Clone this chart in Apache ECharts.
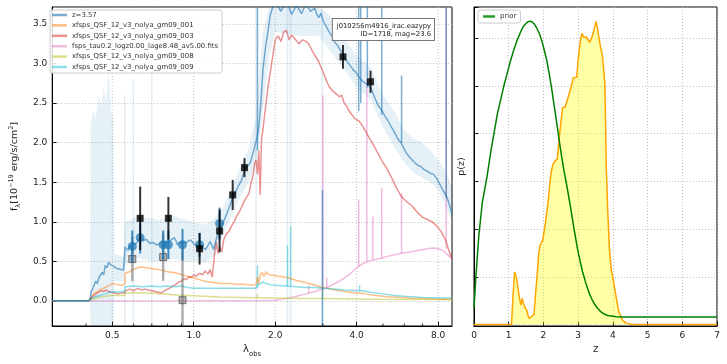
<!DOCTYPE html>
<html><head><meta charset="utf-8">
<script src="https://cdn.jsdelivr.net/npm/echarts@6/dist/echarts.min.js"></script>
<style>html,body{margin:0;padding:0;background:#fff}#c{width:727px;height:364px}</style>
</head><body><div id="c"></div>
<script>
// ---------------- data (left panel: SED, wavelength in micron, flux in 1e-19 erg/s/cm2/A) ----------------
const seriesNames = ['z=3.57','xfsps_QSF_12_v3_nolya_gm09_001','xfsps_QSF_12_v3_nolya_gm09_003','fsps_tau0.2_logz0.00_lage8.48_av5.00.fits','xfsps_QSF_12_v3_nolya_gm09_008','xfsps_QSF_12_v3_nolya_gm09_009'];
const modelZ = [[0.30,0.003],[0.36,0.003],[0.405,0.004],[0.414,0.01],[0.418,0.12],[0.425,0.17],[0.434,0.25],[0.440,0.22],[0.447,0.30],[0.453,0.28],[0.459,0.36],[0.465,0.33],[0.471,0.45],[0.478,0.42],[0.485,0.49],[0.492,0.46],[0.499,0.48],[0.506,0.44],[0.513,0.45],[0.520,0.41],[0.527,0.43],[0.535,0.40],[0.543,0.41],[0.550,0.39],[0.555,0.40],[0.558,0.68],[0.565,0.66],[0.572,0.64],[0.580,0.70],[0.590,0.68],[0.598,0.72],[0.606,0.74],[0.615,0.73],[0.623,0.77],[0.632,0.79],[0.641,0.80],[0.650,0.76],[0.659,0.75],[0.668,0.78],[0.677,0.76],[0.687,0.73],[0.697,0.71],[0.707,0.74],[0.717,0.73],[0.727,0.71],[0.737,0.69],[0.748,0.72],[0.758,0.73],[0.769,0.75],[0.780,0.77],[0.796,0.74],[0.813,0.75],[0.830,0.78],[0.847,0.80],[0.860,0.76],[0.870,0.71],[0.885,0.74],[0.900,0.76],[0.917,0.75],[0.935,0.73],[0.955,0.76],[0.974,0.77],[0.992,0.74],[1.011,0.71],[1.035,0.70],[1.063,0.69],[1.085,0.67],[1.106,0.65],[1.128,0.70],[1.150,0.75],[1.168,0.70],[1.185,0.65],[1.203,0.74],[1.220,0.82],[1.235,0.86],[1.250,0.90],[1.270,0.95],[1.290,1.01],[1.310,1.06],[1.340,1.15],[1.365,1.22],[1.390,1.30],[1.420,1.36],[1.460,1.45],[1.500,1.52],[1.540,1.65],[1.580,1.70],[1.620,1.75],[1.650,1.85],[1.680,1.95],[1.710,2.05],[1.740,2.20],[1.770,2.50],[1.800,2.90],[1.840,3.20],[1.880,3.40],[1.920,3.62],[1.960,3.72],[2.000,3.78],[2.100,3.66],[2.200,3.80],[2.300,3.62],[2.400,3.74],[2.500,3.63],[2.600,3.76],[2.700,3.66],[2.800,3.70],[2.850,3.62],[2.900,3.58],[2.950,3.64],[3.000,3.55],[3.050,3.50],[3.100,3.46],[3.150,3.41],[3.240,3.35],[3.320,3.27],[3.400,3.23],[3.480,3.17],[3.560,3.12],[3.650,3.05],[3.750,2.99],[3.870,2.93],[3.990,2.88],[4.100,2.82],[4.200,2.78],[4.350,2.74],[4.500,2.70],[4.650,2.58],[4.800,2.47],[4.950,2.41],[5.100,2.33],[5.200,2.29],[5.350,2.21],[5.500,2.14],[5.650,2.06],[5.830,2.00],[6.000,1.92],[6.100,1.87],[6.300,1.81],[6.500,1.76],[6.700,1.72],[6.900,1.70],[7.100,1.66],[7.300,1.64],[7.500,1.61],[7.700,1.60],[7.900,1.55],[8.100,1.48],[8.300,1.41],[8.600,1.32],[8.800,1.22],[9.000,1.10]];
const modelSpikes = [[1.72,1.9,3.8],[2.99,-0.4,1.4],[4.07,2.4,3.8],[4.14,2.5,3.8],[4.38,2.7,3.8],[4.95,2.35,3.8],[5.86,2.0,2.85],[8.57,1.3,3.8]];
const modelBand = [[0.414,0,0.02],[0.416,-0.4,2.2],[0.425,-0.4,2.4],[0.435,-0.4,2.3],[0.445,-0.4,2.6],[0.455,-0.4,2.45],[0.465,-0.4,2.7],[0.475,-0.4,2.5],[0.485,-0.4,2.95],[0.495,-0.4,2.4],[0.505,-0.4,2.3],[0.51,0.25,0.6],[0.55,0.25,0.55],[0.556,0.45,1.0],[0.58,0.5,1.02],[0.62,0.55,1.08],[0.66,0.52,1.05],[0.70,0.5,1.05],[0.75,0.5,1.02],[0.80,0.52,1.06],[0.85,0.53,1.08],[0.90,0.52,1.04],[0.95,0.5,1.02],[1.00,0.5,1.0],[1.05,0.5,0.98],[1.10,0.48,0.96],[1.15,0.52,1.0],[1.20,0.58,1.05],[1.25,0.72,1.12],[1.30,0.88,1.22],[1.40,1.12,1.48],[1.50,1.35,1.72],[1.60,1.5,1.95],[1.70,1.75,2.35],[1.80,2.4,3.4],[1.90,3.1,3.9],[2.0,3.4,4.1],[2.5,3.35,4.1],[2.9,3.35,3.9],[3.2,3.15,3.6],[3.56,2.95,3.35],[4.0,2.7,3.1],[4.5,2.55,2.95],[5.0,2.2,2.6],[5.5,1.95,2.4],[6.0,1.75,2.15],[6.5,1.62,2.05],[7.0,1.55,2.0],[7.5,1.5,1.9],[8.0,1.4,1.78],[8.5,1.22,1.65],[9.0,1.0,1.45]];
const bandSpikes = [[0.556,-0.4,2.6],[0.598,-0.4,2.8],[0.70,-0.4,2.9],[1.70,-0.4,3.8],[2.22,-0.4,3.8],[2.28,-0.4,3.8],[2.98,-0.4,3.8]];
const tpl001 = [[0.30,0.002],[0.41,0.004],[0.417,0.05],[0.43,0.10],[0.45,0.14],[0.47,0.17],[0.49,0.20],[0.50,0.22],[0.52,0.21],[0.54,0.20],[0.556,0.21],[0.558,0.35],[0.58,0.37],[0.60,0.40],[0.62,0.42],[0.64,0.43],[0.67,0.42],[0.70,0.41],[0.73,0.40],[0.76,0.39],[0.80,0.37],[0.84,0.36],[0.87,0.35],[0.91,0.33],[0.95,0.31],[1.0,0.29],[1.05,0.27],[1.10,0.25],[1.15,0.24],[1.20,0.23],[1.25,0.22],[1.35,0.22],[1.45,0.21],[1.55,0.21],[1.65,0.20],[1.70,0.21],[1.72,0.30],[1.74,0.22],[1.76,0.33],[1.79,0.36],[1.82,0.31],[1.85,0.37],[1.88,0.34],[1.92,0.33],[1.96,0.33],[2.0,0.32],[2.1,0.31],[2.25,0.29],[2.4,0.26],[2.6,0.23],[2.81,0.20],[3.0,0.17],[3.33,0.14],[3.6,0.12],[3.9,0.105],[4.3,0.09],[4.7,0.07],[5.2,0.055],[5.8,0.045],[6.5,0.035],[7.2,0.03],[7.7,0.025],[8.5,0.022],[9.0,0.02]];
const tpl003 = [[0.30,0.002],[0.41,0.003],[0.417,0.03],[0.425,0.06],[0.435,0.09],[0.445,0.11],[0.455,0.13],[0.465,0.12],[0.475,0.14],[0.485,0.12],[0.495,0.11],[0.51,0.10],[0.525,0.09],[0.54,0.10],[0.556,0.10],[0.56,0.13],[0.58,0.15],[0.60,0.13],[0.62,0.16],[0.64,0.14],[0.66,0.15],[0.68,0.14],[0.70,0.13],[0.72,0.12],[0.74,0.11],[0.76,0.10],[0.78,0.13],[0.80,0.15],[0.82,0.17],[0.84,0.19],[0.86,0.21],[0.88,0.24],[0.90,0.25],[0.92,0.28],[0.94,0.27],[0.96,0.31],[0.98,0.30],[1.00,0.33],[1.02,0.31],[1.05,0.35],[1.08,0.33],[1.10,0.38],[1.13,0.34],[1.15,0.40],[1.17,0.30],[1.19,0.55],[1.21,0.75],[1.23,0.60],[1.25,0.68],[1.27,0.62],[1.29,0.77],[1.32,0.85],[1.35,0.88],[1.38,0.95],[1.41,1.0],[1.44,1.07],[1.47,1.12],[1.50,1.18],[1.53,1.25],[1.56,1.30],[1.60,1.36],[1.63,1.50],[1.66,1.60],[1.68,1.74],[1.70,1.78],[1.72,1.60],[1.74,1.90],[1.76,1.34],[1.78,2.05],[1.80,2.15],[1.82,2.30],[1.85,2.50],[1.88,2.70],[1.91,2.85],[1.94,3.00],[1.97,3.15],[2.00,3.30],[2.05,3.35],[2.10,3.28],[2.15,3.40],[2.20,3.42],[2.25,3.30],[2.30,3.36],[2.38,3.30],[2.45,3.25],[2.52,3.30],[2.60,3.28],[2.66,3.25],[2.75,3.15],[2.83,3.08],[2.90,3.02],[3.0,2.90],[3.08,2.80],[3.15,2.72],[3.25,2.66],[3.35,2.62],[3.45,2.58],[3.52,2.60],[3.60,2.50],[3.68,2.46],[3.75,2.40],[3.85,2.35],[3.95,2.30],[4.06,2.28],[4.15,2.24],[4.29,2.16],[4.45,2.06],[4.65,1.95],[4.85,1.83],[5.0,1.75],[5.2,1.66],[5.4,1.55],[5.63,1.42],[5.85,1.32],[6.1,1.26],[6.4,1.20],[6.7,1.12],[7.0,1.06],[7.3,1.03],[7.6,1.00],[7.9,0.95],[8.2,0.88],[8.5,0.78],[8.8,0.62],[9.0,0.52]];
const tplTau = [[0.30,0.001],[1.0,0.002],[1.8,0.005],[2.0,0.01],[2.2,0.03],[2.4,0.06],[2.6,0.09],[2.8,0.12],[3.0,0.15],[3.2,0.19],[3.4,0.24],[3.6,0.29],[3.8,0.35],[4.0,0.42],[4.2,0.47],[4.5,0.51],[4.9,0.54],[5.3,0.57],[5.8,0.60],[6.3,0.62],[6.8,0.64],[7.3,0.66],[7.7,0.67],[8.0,0.66],[8.4,0.63],[8.7,0.58],[9.0,0.53]];
const tauSpikes = [[2.66,0.09,0.2],[3.0,0.15,2.6],[3.1,0.17,0.3],[4.07,0.43,1.28],[4.36,0.5,2.8],[4.59,0.52,1.07],[4.95,0.54,1.43],[5.86,0.6,1.36],[8.57,0.66,3.8]];
const tpl008 = [[0.30,0.002],[0.41,0.003],[0.417,0.02],[0.44,0.04],[0.47,0.06],[0.50,0.07],[0.53,0.07],[0.556,0.07],[0.558,0.10],[0.60,0.105],[0.66,0.10],[0.75,0.09],[0.87,0.075],[1.0,0.065],[1.25,0.05],[1.5,0.045],[1.8,0.04],[2.2,0.035],[2.6,0.03],[3.0,0.03],[4.0,0.025],[5.0,0.022],[7.0,0.02],[9.0,0.02]];
const spikes008 = [[1.72,0.04,0.09],[3.0,0.03,0.18]];
const tpl009 = [[0.30,0.002],[0.41,0.003],[0.417,0.03],[0.43,0.05],[0.45,0.07],[0.47,0.09],[0.49,0.11],[0.50,0.12],[0.52,0.11],[0.54,0.12],[0.556,0.12],[0.558,0.18],[0.60,0.19],[0.65,0.18],[0.70,0.19],[0.75,0.18],[0.80,0.19],[0.85,0.18],[0.90,0.19],[0.95,0.17],[1.0,0.16],[1.1,0.16],[1.2,0.16],[1.3,0.16],[1.4,0.16],[1.5,0.16],[1.6,0.16],[1.69,0.16],[1.72,0.20],[1.76,0.22],[1.80,0.24],[1.85,0.22],[1.90,0.21],[2.0,0.20],[2.2,0.19],[2.4,0.18],[2.6,0.17],[2.8,0.17],[3.0,0.16],[3.3,0.15],[3.6,0.14],[4.0,0.13],[4.2,0.13],[4.5,0.11],[5.0,0.09],[5.5,0.07],[6.0,0.06],[7.0,0.045],[8.0,0.04],[9.0,0.035]];
const spikes009 = [[1.72,0.16,0.45],[2.22,0.19,0.7],[2.28,0.19,0.94],[4.1,0.13,0.2]];
// photometry: [lambda, flux, error]
const obsPhot = [[0.634,1.045,0.40],[0.806,1.045,0.27],[1.051,0.66,0.20],[1.246,0.885,0.27],[1.393,1.34,0.19],[1.540,1.685,0.12],[3.56,3.085,0.15],[4.50,2.77,0.14]];
const modelPhot = [[0.593,0.69,0.20],[0.634,0.80,0.20],[0.771,0.71,0.18],[0.806,0.71,0.18],[0.909,0.71,0.20],[1.051,0.71,0.15],[1.246,0.98,0.20]];
const lowPhot = [[0.593,0.53,0.28],[0.771,0.555,0.30],[0.909,0.01,0.70]];
const xTickMajor = [0.5,1,2,4,8];
const xTickMinor = [0.4,0.6,0.7,0.8,0.9,3,5,6,7];
// ---------------- data (right panel: p(z)) ----------------
const pzCurve = [[0,0],[1.08,0],[1.12,0.55],[1.17,1.10],[1.23,0.96],[1.27,0.75],[1.31,0.55],[1.35,0.41],[1.39,0.55],[1.42,0.45],[1.46,0.37],[1.52,0.30],[1.58,0.13],[1.62,0.12],[1.67,0.17],[1.73,0.22],[1.77,0.62],[1.82,1.04],[1.86,1.45],[1.90,1.66],[1.98,1.77],[2.06,2.15],[2.11,2.42],[2.19,2.98],[2.23,3.22],[2.28,3.36],[2.33,3.42],[2.40,3.47],[2.47,4.02],[2.55,4.54],[2.63,4.56],[2.72,4.78],[2.79,4.96],[2.86,5.17],[2.96,5.18],[3.0,5.55],[3.07,5.96],[3.11,6.10],[3.16,6.02],[3.24,6.02],[3.28,6.0],[3.33,5.91],[3.41,6.04],[3.47,6.21],[3.52,6.35],[3.57,6.14],[3.64,5.83],[3.70,5.62],[3.77,5.06],[3.81,3.33],[3.85,2.42],[3.90,1.59],[3.95,1.17],[4.02,0.90],[4.10,0.55],[4.17,0.27],[4.27,0.10],[4.38,0.03],[4.57,0],[7.0,0]];
const priorCurve = [[0,0.34],[0.05,0.96],[0.14,1.87],[0.24,2.56],[0.38,3.12],[0.48,3.6],[0.58,4.02],[0.67,4.40],[0.77,4.71],[0.86,5.0],[0.96,5.27],[1.05,5.52],[1.15,5.76],[1.25,5.97],[1.35,6.14],[1.42,6.24],[1.49,6.30],[1.55,6.34],[1.61,6.35],[1.67,6.34],[1.73,6.30],[1.80,6.22],[1.88,6.10],[1.95,5.95],[2.02,5.76],[2.10,5.52],[2.17,5.24],[2.24,4.93],[2.31,4.58],[2.38,4.24],[2.45,3.88],[2.52,3.54],[2.60,3.19],[2.69,2.84],[2.79,2.42],[2.88,2.01],[2.98,1.59],[3.05,1.35],[3.13,1.10],[3.20,0.92],[3.27,0.76],[3.34,0.62],[3.41,0.51],[3.48,0.42],[3.56,0.34],[3.65,0.27],[3.75,0.22],[3.85,0.19],[3.95,0.18],[4.1,0.165],[4.24,0.16],[5.0,0.16],[6.0,0.16],[7.0,0.16]];

// ---------------- chart ----------------
const FONT = 'DejaVu Sans';
const C = {
  blue: 'rgba(31,119,180,0.6)', orange: 'rgba(255,127,14,0.5)', red: 'rgba(214,39,40,0.5)',
  pink: 'rgba(227,119,194,0.5)', olive: 'rgba(188,189,34,0.5)', cyan: 'rgba(23,190,207,0.5)'
};
function clampY(cs, v){ return Math.max(cs.y, Math.min(cs.y + cs.height, v)); }
function segRender(color, width){
  return function(params, api){
    const cs = params.coordSys;
    const x = api.value(0), lo = api.value(1), hi = api.value(2);
    const a = api.coord([x, lo]), b = api.coord([x, hi]);
    return {type:'line', shape:{x1:a[0], y1:clampY(cs,a[1]), x2:b[0], y2:clampY(cs,b[1])}, style:{stroke:color, lineWidth:width}};
  };
}
function errRender(color, width){
  return function(params, api){
    const cs = params.coordSys;
    const x = api.value(0), y = api.value(1), e = api.value(2);
    const a = api.coord([x, y - e]), b = api.coord([x, y + e]);
    return {type:'line', shape:{x1:a[0], y1:clampY(cs,a[1]), x2:b[0], y2:clampY(cs,b[1])}, style:{stroke:color, lineWidth:width}};
  };
}
function bandRender(params, api){
  if (params.dataIndex !== 0) return {type:'group', children:[]};
  const cs = params.coordSys;
  const pts = [];
  for (let i = 0; i < modelBand.length; i++) { const p = api.coord([modelBand[i][0], modelBand[i][2]]); pts.push([p[0], clampY(cs,p[1])]); }
  for (let i = modelBand.length - 1; i >= 0; i--) { const p = api.coord([modelBand[i][0], modelBand[i][1]]); pts.push([p[0], clampY(cs,p[1])]); }
  return {type:'polygon', shape:{points:pts}, style:{fill:'rgba(31,119,180,0.11)'}};
}
function minorTickRender(params, api){
  const cs = params.coordSys;
  const p = api.coord([api.value(0), 0]);
  const yb = cs.y + cs.height;
  return {type:'line', shape:{x1:p[0], y1:yb, x2:p[0], y2:yb - 2.5}, style:{stroke:'#000', lineWidth:0.8}};
}
function vGridRender(params, api){
  const cs = params.coordSys;
  const p = api.coord([api.value(0), 0]);
  return {type:'line', shape:{x1:p[0], y1:cs.y, x2:p[0], y2:cs.y + cs.height}, style:{stroke:'#b0b0b0', lineWidth:0.8, lineDash:[1,2]}};
}
const lineSeries = (name, data, color, z) => ({name, type:'line', data, xAxisIndex:0, yAxisIndex:0, showSymbol:false, symbol:'none', color, lineStyle:{color, width:1.5}, z, clip:true});
const custom = (data, renderItem, z, xi) => ({type:'custom', data, renderItem, xAxisIndex:xi||0, yAxisIndex:xi||0, z, silent:true});

const axisCommon = {
  axisLine:{show:true, onZero:false, lineStyle:{color:'#000', width:1}},
  axisTick:{show:true, inside:true, length:4.5, lineStyle:{color:'#000', width:0.9}},
  splitLine:{show:true, lineStyle:{type:[1,2], color:'#b0b0b0', width:0.8}}
};
const labelStyle = {fontSize:9, color:'#222', fontFamily:FONT};

const option = {
  animation:false,
  textStyle:{fontFamily:FONT},
  grid:[
    {left:47, top:7, width:405, height:319, show:true, borderColor:'#000', borderWidth:1, backgroundColor:'transparent'},
    {left:474, top:7, width:243, height:319, show:true, borderColor:'#000', borderWidth:1, backgroundColor:'transparent'}
  ],
  legend:[
    {data:seriesNames, orient:'vertical', left:50, top:10, icon:'rect', itemWidth:15, itemHeight:2.5, itemGap:2.4,
     padding:[1,4,2,2], backgroundColor:'rgba(255,255,255,0.85)', borderColor:'#ccc', borderWidth:1, borderRadius:2,
     textStyle:{fontSize:6.9, color:'#333', lineHeight:8, fontFamily:FONT}, selectedMode:false},
    {data:['prior'], orient:'vertical', left:478, top:10, icon:'rect', itemWidth:12, itemHeight:2.5,
     padding:[3,4,3,5], backgroundColor:'#fff', borderColor:'#ccc', borderWidth:1, borderRadius:2,
     textStyle:{fontSize:7, color:'#333', fontFamily:FONT}, selectedMode:false}
  ],
  xAxis:[
    Object.assign({}, axisCommon, {type:'log', logBase:2, gridIndex:0, min:0.3, max:9.0,
      name:'{a|λ}{b|obs}', nameLocation:'middle', nameGap:16,
      nameTextStyle:{rich:{a:{fontSize:10, color:'#222', fontFamily:FONT, lineHeight:13, verticalAlign:'top'}, b:{fontSize:7, color:'#222', fontFamily:FONT, lineHeight:13, verticalAlign:'bottom'}}},
      axisTick:{show:true, inside:true, length:4.5, lineStyle:{color:'#000', width:0.9}, customValues:xTickMajor},
      splitLine:{show:false},
      axisLabel:Object.assign({}, labelStyle, {margin:5, customValues:xTickMajor, formatter:v => Number(v).toFixed(1)})}),
    Object.assign({}, axisCommon, {type:'value', gridIndex:1, min:0, max:7, interval:1,
      name:'z', nameLocation:'middle', nameGap:15, nameTextStyle:{fontSize:10, color:'#222', fontFamily:FONT},
      axisLabel:Object.assign({}, labelStyle, {margin:5})})
  ],
  yAxis:[
    Object.assign({}, axisCommon, {type:'value', gridIndex:0, min:-0.316, max:3.715, splitNumber:8,
      name:'{a|f}{s|λ}{a|[10}{p|−19}{a| erg/s/cm}{p|2}{a|]}', nameLocation:'middle', nameGap:25, nameRotate:90,
      nameTextStyle:{rich:{
        a:{fontSize:9.5, color:'#222', fontFamily:FONT, lineHeight:14, verticalAlign:'middle'},
        s:{fontSize:6.5, color:'#222', fontFamily:FONT, lineHeight:9, verticalAlign:'bottom'},
        p:{fontSize:6.5, color:'#222', fontFamily:FONT, lineHeight:9, verticalAlign:'top'}}},
      axisLabel:Object.assign({}, labelStyle, {margin:5, showMinLabel:false, showMaxLabel:false, formatter:v => Number(v).toFixed(1)})}),
    Object.assign({}, axisCommon, {type:'value', gridIndex:1, min:-0.03, max:6.65, splitNumber:7,
      name:'p(z)', nameLocation:'middle', nameGap:7, nameRotate:90, nameTextStyle:{fontSize:9.5, color:'#222', fontFamily:FONT},
      axisLabel:{show:false}})
  ],
  graphic:[{type:'text', right:292, top:18, z:100,
    style:{text:'j010256m4916_irac.eazypy\nID=1718, mag=23.6', align:'right', textAlign:'right', font:'6.8px "DejaVu Sans"', fill:'#222',
      backgroundColor:'#fff', borderColor:'#777', borderWidth:1, padding:[3,3,2,4], lineHeight:8}}],
  series:[
    custom(xTickMajor.map(v => [v, 0]), vGridRender, 0),
    custom(modelBand, bandRender, 1),
    custom(bandSpikes, segRender('rgba(31,119,180,0.13)', 1.6), 1),
    lineSeries(seriesNames[1], tpl001, C.orange, 2),
    lineSeries(seriesNames[2], tpl003, C.red, 2),
    lineSeries(seriesNames[3], tplTau, C.pink, 2),
    custom(tauSpikes, segRender(C.pink, 1.5), 2),
    lineSeries(seriesNames[4], tpl008, C.olive, 2),
    custom(spikes008, segRender(C.olive, 1.5), 2),
    lineSeries(seriesNames[5], tpl009, C.cyan, 2),
    custom(spikes009, segRender(C.cyan, 1.5), 2),
    lineSeries(seriesNames[0], modelZ, C.blue, 3),
    custom(modelSpikes, segRender(C.blue, 1.5), 3),
    custom(lowPhot, errRender('rgba(110,110,110,0.55)', 2.5), 4),
    {type:'scatter', data:lowPhot, xAxisIndex:0, yAxisIndex:0, symbol:'rect', symbolSize:7, z:4, silent:true,
      itemStyle:{color:'rgba(110,110,110,0.6)', borderColor:'rgba(60,60,60,0.8)', borderWidth:1}},
    custom(modelPhot, errRender('rgba(31,119,180,0.85)', 2), 5),
    {type:'scatter', data:modelPhot, xAxisIndex:0, yAxisIndex:0, symbol:'circle', symbolSize:9, z:5, silent:true,
      itemStyle:{color:'rgba(31,119,180,0.9)'}},
    custom(obsPhot, errRender('rgba(0,0,0,0.8)', 2), 6),
    {type:'scatter', data:obsPhot, xAxisIndex:0, yAxisIndex:0, symbol:'rect', symbolSize:7, z:6, silent:true,
      itemStyle:{color:'#000'}},
    custom(xTickMinor.map(v => [v, 0]), minorTickRender, 7),
    {name:'pz', type:'line', data:pzCurve, xAxisIndex:1, yAxisIndex:1, showSymbol:false, symbol:'none', z:2,
      color:'#ffa500', lineStyle:{color:'#ffa500', width:1.5}, areaStyle:{color:'rgba(255,255,0,0.5)', origin:'auto'}},
    {name:'prior', type:'line', data:priorCurve, xAxisIndex:1, yAxisIndex:1, showSymbol:false, symbol:'none', z:3,
      color:'#2a9a2a', lineStyle:{color:'#008000', width:1.5}}
  ]
};
const chart = echarts.init(document.getElementById('c'), null, {renderer:'canvas', width:727, height:364});
chart.setOption(option);
</script></body></html>
